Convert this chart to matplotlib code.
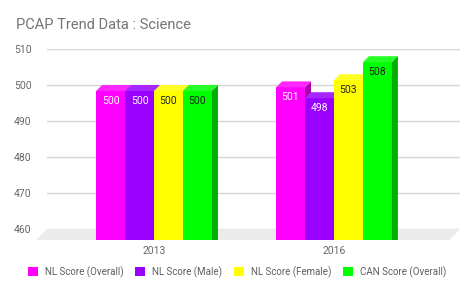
import matplotlib.pyplot as plt
from matplotlib.patches import Polygon, Patch
from matplotlib.colors import to_rgb

years = ['2013', '2016']
series_names = ['NL Score (Overall)', 'NL Score (Male)', 'NL Score (Female)', 'CAN Score (Overall)']
nl_overall = [500, 501]
nl_male = [500, 498]
nl_female = [500, 503]
can_overall = [500, 508]
yticks = [460, 470, 480, 490, 500, 510]

colors = ['#ff00ff', '#9900ff', '#ffff00', '#00ff00']
label_colors = ['white', 'white', '#222222', '#222222']

plt.rcParams['font.family'] = ['Roboto', 'DejaVu Sans']

W, H = 474, 293
fig = plt.figure(figsize=(W / 100, H / 100), dpi=100)
ax = fig.add_axes([47 / W, 64 / H, 413 / W, 180 / H])
xmin, xmax = -0.628, 1.667
ymin, ymax = 460, 510
ax.set_xlim(xmin, xmax)
ax.set_ylim(ymin, ymax)

# depth of the 3d effect, pixels -> data units
px_x = (xmax - xmin) / 413
px_y = (ymax - ymin) / 180
dx, dy = 6 * px_x, 6 * px_y
fdx, fdy = 10.5 * px_x, 11 * px_y
floor_front = ymin - fdy

# floor
ax.add_patch(Polygon([(xmin, ymin), (xmax, ymin), (xmax - fdx, floor_front), (xmin - fdx, floor_front)],
                     closed=True, facecolor='#ebebeb', edgecolor='none', zorder=1, clip_on=False))


def shade(c, f):
    r, g, b = to_rgb(c)
    return (r * f, g * f, b * f)


def lighten(c, f):
    r, g, b = to_rgb(c)
    return (r + (1 - r) * f, g + (1 - g) * f, b + (1 - b) * f)


bar_w = 0.161
all_series = [nl_overall, nl_male, nl_female, can_overall]
for i, vals in enumerate(all_series):
    off = (i - 1.5) * bar_w
    for g, v in enumerate(vals):
        xc = g + off
        x0, x1 = xc - bar_w / 2, xc + bar_w / 2
        front = [(x0 - dx, floor_front), (x1 - dx, floor_front), (x1 - dx, v - dy), (x0 - dx, v - dy)]
        top = [(x0 - dx, v - dy), (x1 - dx, v - dy), (x1, v), (x0, v)]
        side = [(x1 - dx, floor_front), (x1, floor_front), (x1, v), (x1 - dx, v - dy)]
        ax.add_patch(Polygon(front, closed=True, facecolor=colors[i], edgecolor='none', zorder=3, clip_on=False))
        ax.add_patch(Polygon(top, closed=True, facecolor=lighten(colors[i], 0.15), edgecolor='none', zorder=3, clip_on=False))
        ax.add_patch(Polygon(side, closed=True, facecolor=shade(colors[i], 0.68), edgecolor='none', zorder=3, clip_on=False))
        ax.annotate(str(v), xy=(xc - dx, v - dy), xytext=(0, -10), textcoords='offset pixels',
                    ha='center', va='center', fontsize=7.5, color=label_colors[i], zorder=5)

for s in ax.spines.values():
    s.set_visible(False)
ax.set_axisbelow(True)
ax.yaxis.grid(True, color='#d6d6d6', lw=1)
ax.set_yticks(yticks)
ax.tick_params(axis='y', length=0, pad=11, labelsize=7.5, labelcolor='#666666')
ax.set_xticks([0 - dx, 1 - dx])
ax.set_xticklabels(years)
ax.tick_params(axis='x', length=0, pad=12, labelsize=7.5, labelcolor='#666666')

fig.text(16 / W, 1 - 25 / H, 'PCAP Trend Data : Science', fontsize=10.5, color='#757575', va='center')

handles = [Patch(facecolor=c, edgecolor='none') for c in colors]
fig.legend(handles, series_names, loc='center', bbox_to_anchor=(237 / W, 1 - 272 / H), ncol=4, frameon=False,
           fontsize=7, handlelength=1.03, handleheight=1.03, handletextpad=0.7, columnspacing=1.2,
           labelcolor='#5f5f5f', borderaxespad=0)

fig.savefig('out.png', dpi=100)
